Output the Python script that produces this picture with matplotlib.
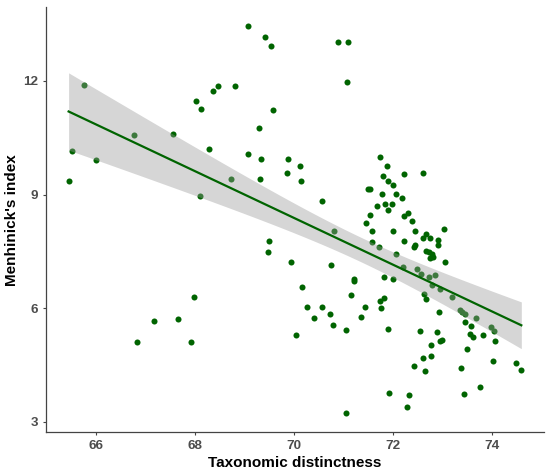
import numpy as np
import matplotlib
matplotlib.use("Agg")
import matplotlib.pyplot as plt

plt.rcParams['font.family'] = ['Liberation Sans', 'DejaVu Sans']

x_taxdist = [
    69.06, 69.41, 69.53, 70.89, 71.09, 71.07, 65.75, 68.02, 68.12, 68.36,
    68.45, 68.81, 69.58, 66.76, 67.55, 69.28, 65.50, 65.99, 65.44, 68.28,
    69.06, 69.32, 68.73, 69.30, 68.09, 69.88, 70.11, 69.86, 70.13, 70.56,
    70.80, 69.49, 69.47, 67.98, 67.16, 67.65, 66.82, 67.92,
    69.94, 70.74, 70.15, 70.26, 70.56, 70.40, 70.72, 70.79, 70.04, 71.04,
    71.21, 71.21, 71.14, 71.43, 71.34, 71.05,
    71.73, 71.88, 72.21, 72.60, 71.79, 71.90, 72.00, 71.49, 71.53, 71.77,
    72.05, 72.18, 71.67, 71.84, 71.98, 71.90, 71.53, 72.21, 72.30, 72.38,
    71.46, 73.02, 71.57, 71.99, 72.44, 72.66, 72.61, 72.74, 72.91, 72.91,
    71.57, 72.21, 72.45, 72.42, 71.71, 72.05, 72.67, 72.72, 72.79, 72.75,
    72.81, 73.04, 72.19, 72.48, 72.57, 72.73, 72.85, 71.81, 72.00, 72.79,
    72.95, 72.63, 72.67, 73.18, 71.81, 71.73, 71.75, 73.36, 73.39, 73.45,
    72.93, 73.68, 73.45, 73.57, 71.90, 72.54, 72.88, 73.56, 73.62, 72.98,
    72.94, 72.77, 73.49, 72.61, 72.77, 73.98, 74.04, 73.82, 74.06, 74.01,
    74.48, 74.59, 73.37, 73.76, 73.43, 71.92, 72.32, 72.28, 72.42, 72.64,
]
y_menhinick = [
    13.44, 13.15, 12.92, 13.02, 13.02, 11.96, 11.89, 11.46, 11.25, 11.73,
    11.88, 11.86, 11.23, 10.57, 10.61, 10.77, 10.16, 9.91, 9.37, 10.19,
    10.06, 9.95, 9.42, 9.40, 8.97, 9.93, 9.75, 9.57, 9.37, 8.84,
    8.03, 7.77, 7.47, 6.30, 5.66, 5.71, 5.11, 5.11,
    7.21, 7.13, 6.55, 6.02, 6.02, 5.74, 5.84, 5.56, 5.29, 5.41,
    6.77, 6.71, 6.35, 6.02, 5.77, 3.23,
    10.00, 9.75, 9.55, 9.57, 9.50, 9.35, 9.26, 9.14, 9.14, 9.02,
    9.02, 8.91, 8.69, 8.76, 8.76, 8.59, 8.46, 8.43, 8.51, 8.31,
    8.25, 8.08, 8.03, 8.05, 8.03, 7.95, 7.85, 7.85, 7.80, 7.67,
    7.74, 7.77, 7.66, 7.62, 7.62, 7.42, 7.52, 7.49, 7.44, 7.32,
    7.35, 7.21, 7.08, 7.03, 6.90, 6.83, 6.87, 6.83, 6.78, 6.60,
    6.50, 6.36, 6.25, 6.29, 6.27, 6.20, 6.00, 5.94, 5.90, 5.84,
    5.90, 5.74, 5.62, 5.54, 5.44, 5.39, 5.36, 5.32, 5.25, 5.16,
    5.12, 5.03, 4.93, 4.68, 4.74, 5.51, 5.39, 5.29, 5.13, 4.59,
    4.54, 4.37, 4.42, 3.91, 3.73, 3.76, 3.71, 3.38, 4.47, 4.34,
]
x_ticks = [66, 68, 70, 72, 74]
y_ticks = [3, 6, 9, 12]

x = np.array(x_taxdist)
y = np.array(y_menhinick)
n = len(x)
b1, b0 = np.polyfit(x, y, 1)
xs = np.linspace(x.min(), x.max(), 80)
ys = b0 + b1 * xs
resid = y - (b0 + b1 * x)
s = np.sqrt(np.sum(resid ** 2) / (n - 2))
sxx = np.sum((x - x.mean()) ** 2)
se = s * np.sqrt(1.0 / n + (xs - x.mean()) ** 2 / sxx)
tcrit = 1.977
lo, hi = ys - tcrit * se, ys + tcrit * se

fig = plt.figure(figsize=(5.5, 4.75), dpi=100)
ax = fig.add_axes([0.0836, 0.0899, 0.9054, 0.8951])

ax.scatter(x, y, s=19, color='#006400', linewidths=0, zorder=2)
ax.fill_between(xs, lo, hi, color='#999999', alpha=0.4, linewidth=0, zorder=3)
ax.plot(xs, ys, color='#006400', lw=1.6, zorder=4)

xr = x.max() - x.min()
yr = y.max() - y.min()
ax.set_xlim(x.min() - 0.05 * xr, x.max() + 0.05 * xr)
ax.set_ylim(y.min() - 0.05 * yr, y.max() + 0.05 * yr)
ax.set_xticks(x_ticks)
ax.set_yticks(y_ticks)
ax.set_xticklabels([str(t) for t in x_ticks])
ax.set_yticklabels([str(t) for t in y_ticks])

for sp in ['top', 'right']:
    ax.spines[sp].set_visible(False)
for sp in ['left', 'bottom']:
    ax.spines[sp].set_color('#444444')
    ax.spines[sp].set_linewidth(0.9)
ax.tick_params(axis='both', length=2.4, width=0.8, color='#444444',
               labelcolor='#4D4D4D', labelsize=9.7, pad=3)
for lab in ax.get_xticklabels() + ax.get_yticklabels():
    lab.set_fontweight('bold')

ax.set_xlabel('Taxonomic distinctness', fontsize=11, fontweight='bold', color='black', labelpad=3)
ax.set_ylabel("Menhinick's index", fontsize=11, fontweight='bold', color='black', labelpad=3)

fig.savefig('out.png', dpi=100)
